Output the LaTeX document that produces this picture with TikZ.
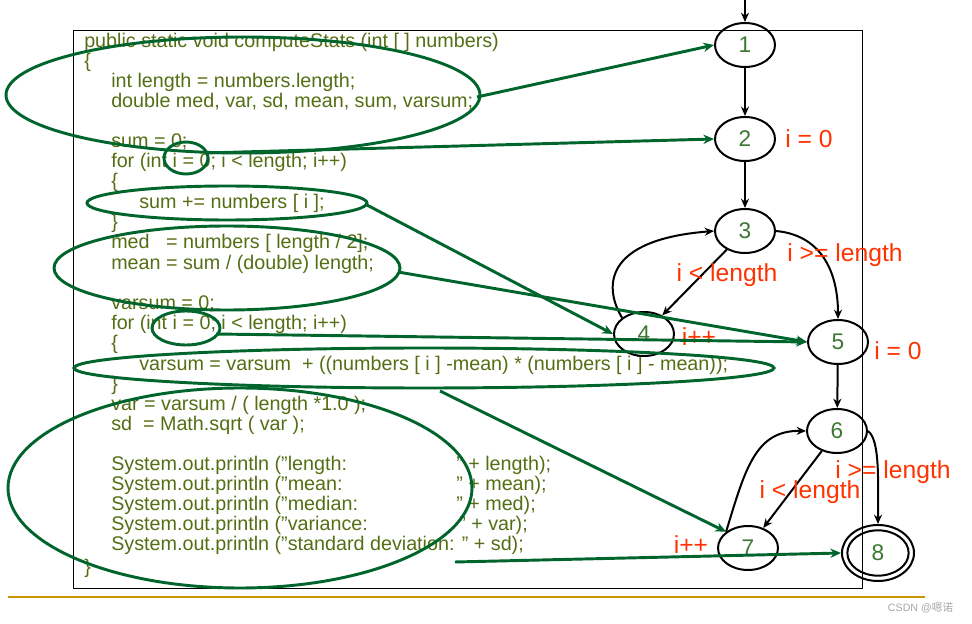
\documentclass[tikz,border=0pt]{standalone}
\usepackage{fontspec}
\setmainfont{Liberation Sans}
\newfontfamily\cjk{Noto Sans CJK SC}
\usetikzlibrary{arrows.meta,shapes.geometric}
\definecolor{codeg}{RGB}{85,110,20}
\definecolor{ovg}{RGB}{0,100,45}
\definecolor{numg}{RGB}{60,120,50}
\definecolor{lblr}{RGB}{255,50,0}
\newcommand{\qq}{\char34\relax}
\begin{document}
\begin{tikzpicture}[x=0.75pt,y=-0.75pt,
  nd/.style={draw=black,line width=1.5pt,shape=ellipse,minimum width=45pt,minimum height=33pt,inner sep=0pt,text=numg,font=\fontsize{17}{17}\selectfont},
  ed/.style={draw=black,line width=1.5pt,-{Stealth[length=7pt,width=6pt]}},
  ov/.style={draw=ovg,line width=2.2pt},
  ga/.style={draw=ovg,line width=2.2pt,-{Stealth[length=8pt,width=7pt]}},
  code/.style={anchor=west,text=codeg,font=\fontsize{14.8}{14.8}\selectfont,inner sep=0pt},
  lbl/.style={text=lblr,font=\fontsize{18.5}{18.5}\selectfont,inner sep=0pt}]
\useasboundingbox (0,0) rectangle (972,624);
\draw[line width=0.6pt] (73,30) rectangle (862,588);
\draw[draw={rgb,255:red,200;green,150;blue,0},line width=1.2pt] (8,597) -- (925,597);
\node[text=gray!70,font=\fontsize{8}{8}\selectfont,anchor=east] (wm) at (958,608) {CSDN @{\cjk 嗯诺}};
% code
\foreach \t/\x/\y in {
 {public static void computeStats (int [ ] numbers)}/84/42,
 {\{}/84/62,
 {int length = numbers.length;}/111/82,
 {double med, var, sd, mean, sum, varsum;}/111/102,
 {sum = 0;}/111/142,
 {for (int i = 0; i < length; i++)}/111/162,
 {\{}/111/182,
 {sum += numbers [ i ];}/139/203,
 {\}}/111/223,
 {med \ \ = numbers [ length / 2];}/111/243,
 {mean = sum / (double) length;}/111/264,
 {varsum = 0;}/111/304,
 {for (int i = 0; i < length; i++)}/111/324,
 {\{}/111/344,
 {varsum = varsum \ + ((numbers [ i ] -mean) * (numbers [ i ] - mean));}/139/365,
 {\}}/111/385,
 {var = varsum / ( length *1.0 );}/111/405,
 {sd \ = Math.sqrt ( var );}/111/425,
 {System.out.println (\qq length:}/111/465,
 {System.out.println (\qq mean:}/111/485,
 {System.out.println (\qq median:}/111/505,
 {System.out.println (\qq variance:}/111/525,
 {System.out.println (\qq standard deviation: \qq\ + sd);}/111/545,
 {\}}/84/568}
 {\node[code] at (\x,\y) {\t};}
\node[code] (p1) at (456,465) {\qq\ + length);};
\node[code] (p2) at (456,485) {\qq\ + mean);};
\node[code] (p3) at (456,505) {\qq\ + med);};
\node[code] (p4) at (459,525) {\qq\ + var);};
% CFG nodes
\node[nd] (n1) at (745,45) {1};
\node[nd] (n2) at (745,139) {2};
\node[nd] (n3) at (745,231) {3};
\node[nd] (n4) at (644,334) {4};
\node[nd] (n5) at (838,342) {5};
\node[nd] (n6) at (837,431) {6};
\node[nd] (n7) at (748,548) {7};
\node[nd,minimum width=54pt,minimum height=42pt] (n8) at (878,553) {};
\node[nd,minimum width=46pt,minimum height=34pt] (n8i) at (878,553) {8};
\coordinate (top) at (745,-2);
\draw[ed] (top) -- (n1);
\draw[ed] (n1) -- (n2);
\draw[ed] (n2) -- (n3);
\draw[ed] (n3) -- (n4);
\draw[ed] (n4.north west) .. controls (605,290) and (600,240) .. (n3.west);
\draw[ed] (n3.east) .. controls (820,235) and (838,270) .. (n5.north);
\draw[ed] (n5) -- (n6);
\draw[ed] (n6) -- (n7);
\draw[ed] (n7.north west) .. controls (745,470) and (755,430) .. (n6.west);
\draw[ed] (n6.east) .. controls (880,440) and (878,480) .. (n8.north);
% labels
\node[lbl] at (809,139) {i = 0};
\node[lbl] at (845,255) {i >= length};
\node[lbl] at (727,275) {i < length};
\node[lbl] at (699,337) {i++};
\node[lbl] at (898,351) {i = 0};
\node[lbl] at (893,472) {i >= length};
\node[lbl] at (810,492) {i < length};
\node[lbl] at (691,545) {i++};
% overlay ellipses
\draw[ov] (243,95) ellipse [x radius=237,y radius=58];
\draw[ov] (186,158) ellipse [x radius=22,y radius=16];
\draw[ov] (227,203) ellipse [x radius=140,y radius=17];
\draw[ov] (227,268) ellipse [x radius=173,y radius=42];
\draw[ov] (186,328) ellipse [x radius=34,y radius=17];
\draw[ov] (424,368) ellipse [x radius=350,y radius=20];
\draw[ov] (240,488) ellipse [x radius=232,y radius=100];
\coordinate (e1) at (477,97);
\coordinate (e2) at (205,153);
\coordinate (e3) at (365,204);
\coordinate (e4) at (398,272);
\coordinate (e5) at (216,334);
\coordinate (e6) at (440,391);
\coordinate (e7) at (455,562);
\draw[ga] (e1) -- (n1.west);
\draw[ga] (e2) -- (n2.west);
\draw[ga] (e3) -- (n4.west);
\draw[ga] (e4) -- (n5.west);
\draw[ga] (e5) -- (n5.west);
\draw[ga] (e6) -- (n7.north west);
\draw[ga] (e7) -- (n8.west);
\end{tikzpicture}
\end{document}
